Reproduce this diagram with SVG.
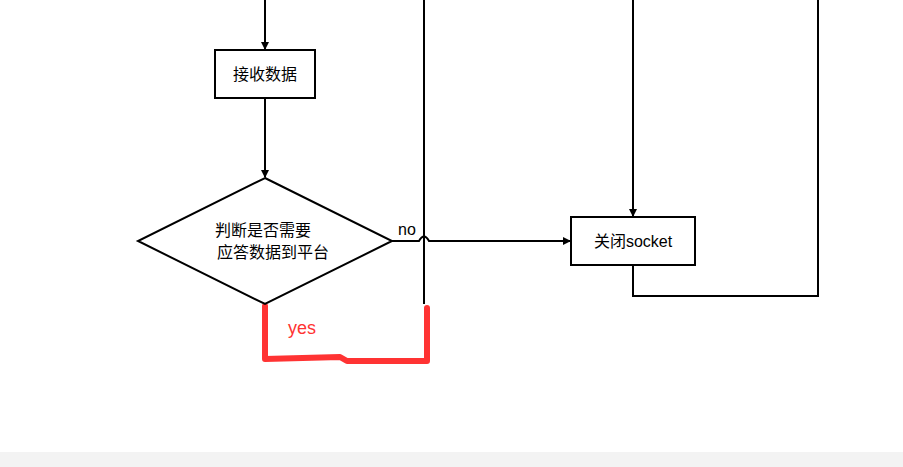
<svg xmlns="http://www.w3.org/2000/svg" width="903" height="467" viewBox="0 0 903 467">
<style>
.n{fill:#fff;stroke:#000;stroke-width:2}
.c{fill:none;stroke:#000;stroke-width:2}
.t{font-family:"Liberation Sans","Noto Sans CJK SC",sans-serif;font-size:16px;fill:#000}
</style>
<defs><marker id="a" markerWidth="8" markerHeight="8" refX="7" refY="4" orient="auto" markerUnits="userSpaceOnUse"><path d="M0,0 L8,4 L0,8 Z" fill="#000"/></marker></defs>
<rect width="903" height="467" fill="#fff"/>
<rect y="452" width="903" height="15" fill="#f3f3f3"/>
<g id="connectors">
<path class="c" d="M265,0 V49" marker-end="url(#a)"/>
<path class="c" d="M265,98 V177" marker-end="url(#a)"/>
<path class="c" d="M424,0 V304"/>
<path class="c" d="M392,241 H419 Q424,232 429,241 H570" marker-end="url(#a)"/>
<path class="c" d="M633,0 V216" marker-end="url(#a)"/>
<path class="c" d="M633,265 V296 H818 V0"/>
<path d="M265,306 V359 L340,357 L347,361 L427,361 V308" fill="none" stroke="#f33" stroke-width="6" stroke-linejoin="round" stroke-linecap="round"/>
</g>
<g id="recv"><rect class="n" x="215" y="50" width="100" height="48"/><text class="t" x="265" y="80" text-anchor="middle">接收数据</text></g>
<g id="judge"><polygon class="n" points="265,178 392,241 265,304 138,241"/><text class="t" x="263" y="236" text-anchor="middle">判断是否需要</text><text class="t" x="273" y="258" text-anchor="middle">应答数据到平台</text></g>
<g id="close"><rect class="n" x="571" y="217" width="124" height="48"/><text class="t" x="633" y="247" text-anchor="middle">关闭socket</text></g>
<text class="t" x="398" y="235" font-size="15" fill="#000">no</text>
<text class="t" x="288" y="334" style="fill:#f33;font-size:18px">yes</text>
</svg>
